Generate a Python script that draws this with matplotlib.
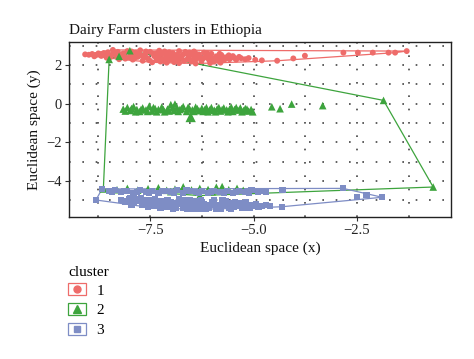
import matplotlib
matplotlib.use("Agg")
import matplotlib.pyplot as plt
from matplotlib.lines import Line2D
from matplotlib.patches import Rectangle
from matplotlib.legend_handler import HandlerBase

plt.rcParams['font.family'] = ['Liberation Serif', 'DejaVu Serif']

# ---------------- data ----------------
cluster_labels = ["1", "2", "3"]
colors = ["#EE6C6A", "#3DA43D", "#7E8DC5"]
markers = ["o", "^", "s"]

c1_x = [-9.07, -8.98, -8.90, -8.82, -8.75, -8.68, -8.60, -8.52, -8.45, -8.40, -8.35, -8.28, -8.22, -8.15,
        -8.10, -8.05, -7.98, -7.92, -7.85, -7.80, -7.74, -7.68, -7.62, -7.56, -7.50, -7.45, -7.40, -7.34,
        -7.28, -7.22, -7.16, -7.10, -7.04, -6.98, -6.92, -6.86, -6.80, -6.74, -6.68, -6.62, -6.56, -6.50,
        -6.44, -6.38, -6.32, -6.26, -6.20, -6.14, -6.08, -6.02, -5.96, -5.90, -5.84, -5.78, -5.72, -5.66,
        -5.58, -5.50, -5.42, -5.30, -5.20, -4.96, -4.80, -4.43, -4.04, -3.76, -2.83, -2.48, -2.12, -1.74,
        -1.58, -1.30, -8.55, -8.30, -8.00, -7.70, -7.60, -7.35, -7.20, -7.00, -6.90, -6.70, -6.60, -6.45,
        -6.30, -6.15, -6.00, -5.85, -5.75, -5.60, -6.55, -7.15, -7.90, -8.20, -8.70,
        -8.85, -8.62, -8.48, -8.38, -8.25, -8.12, -7.95, -7.88, -7.76, -7.65, -7.52, -7.42, -7.30, -7.25,
        -7.12, -7.05, -6.95, -6.83, -6.76, -6.65, -6.58, -6.48, -6.40, -6.35, -6.22, -6.12, -6.05, -5.92,
        -5.82, -5.68, -5.55, -5.46, -5.35, -5.12,
        -6.80, -6.40, -6.05, -5.80, -7.10]
c1_y = [2.55, 2.53, 2.57, 2.50, 2.60, 2.47, 2.56, 2.66, 2.42, 2.78, 2.55, 2.68, 2.40, 2.60,
        2.33, 2.72, 2.50, 2.28, 2.64, 2.42, 2.76, 2.22, 2.55, 2.35, 2.68, 2.14, 2.46, 2.28,
        2.74, 2.58, 2.20, 2.40, 2.66, 2.30, 2.15, 2.52, 2.72, 2.36, 2.22, 2.60, 2.45, 2.18,
        2.70, 2.32, 2.55, 2.20, 2.64, 2.40, 2.28, 2.58, 2.17, 2.45, 2.35, 2.52, 2.25, 2.40,
        2.30, 2.46, 2.28, 2.35, 2.30, 2.27, 2.24, 2.22, 2.34, 2.48, 2.64, 2.64, 2.64, 2.64,
        2.64, 2.72, 2.38, 2.45, 2.40, 2.48, 2.70, 2.60, 2.32, 2.50, 2.40, 2.55, 2.28, 2.50,
        2.42, 2.52, 2.35, 2.22, 2.42, 2.50, 2.65, 2.70, 2.60, 2.52, 2.54,
        2.45, 2.62, 2.50, 2.64, 2.30, 2.48, 2.70, 2.35, 2.55, 2.40, 2.25, 2.58, 2.44, 2.18,
        2.55, 2.24, 2.62, 2.30, 2.46, 2.68, 2.36, 2.26, 2.60, 2.46, 2.34, 2.62, 2.46, 2.30,
        2.58, 2.32, 2.40, 2.36, 2.42, 2.36,
        2.10, 2.08, 2.10, 2.12, 2.12]

c2_x = [-8.15, -8.05, -7.98, -7.90, -7.82, -7.75, -7.68, -7.60, -7.52, -7.45, -7.38, -7.30, -7.22, -7.15,
        -7.08, -7.00, -6.92, -6.85, -6.78, -6.70, -6.62, -6.55, -6.48, -6.40, -6.32, -6.25, -6.18, -6.10,
        -6.02, -5.95, -5.88, -5.80, -5.72, -5.65, -5.58, -5.50, -5.42, -5.35, -5.28, -5.20, -5.12, -5.02,
        -4.56, -4.36, -4.08, -3.33,
        -8.49, -7.99, -1.86, -0.66, -6.30, -8.63, -8.25,
        -8.30, -8.05, -7.80, -7.55, -7.30, -7.10, -6.90, -6.70, -6.50, -6.30, -6.10, -5.90, -5.76, -5.60,
        -5.40, -5.25, -6.00, -7.00,
        -8.10, -7.95, -7.85, -7.72, -7.56, -7.42, -7.34, -7.18, -7.04, -6.96, -6.82, -6.74, -6.58, -6.44,
        -6.36, -6.22, -6.14, -6.06, -5.92, -5.84, -5.76, -5.62, -5.54, -5.46, -5.32, -5.24, -5.16, -5.06,
        -6.90]
c2_y = [-0.28, -0.20, -0.35, -0.15, -0.30, -0.40, -0.22, -0.32, -0.12, -0.38, -0.25, -0.30, -0.18, -0.42,
        -0.28, -0.05, -0.35, -0.22, -0.30, -0.15, -0.40, -0.26, -0.32, -0.18, -0.36, -0.24, -0.30, -0.42,
        -0.20, -0.34, -0.27, -0.38, -0.22, -0.32, -0.28, -0.40, -0.20, -0.33, -0.42, -0.25, -0.38, -0.42,
        -0.16, -0.26, -0.02, -0.10,
        2.29, 2.74, 0.17, -4.31, -4.75, -4.41, 2.45,
        -4.45, -4.38, -4.47, -4.40, -4.35, -4.48, -4.42, -4.30, -4.46, -4.38, -4.44, -4.32, -4.29, -4.45,
        -4.38, -4.48, -4.55, -4.55,
        -0.38, -0.25, -0.42, -0.30, -0.40, -0.20, -0.42, -0.30, -0.38, -0.22, -0.40, -0.25, -0.18, -0.40,
        -0.26, -0.40, -0.20, -0.32, -0.42, -0.20, -0.30, -0.42, -0.18, -0.30, -0.22, -0.35, -0.28, -0.30,
        -0.02]

c3_x = [-8.66, -8.50, -8.35, -8.20, -8.05, -7.90, -7.75, -7.60, -7.45, -7.30, -7.15, -7.00, -6.85, -6.70,
        -6.55, -6.40, -6.25, -6.10, -5.95, -5.80, -5.65, -5.50, -5.35, -5.20, -5.05, -4.90, -4.70, -4.30,
        -2.84, -2.51, -2.27, -1.89,
        -8.81, -8.20, -8.10, -8.00, -7.90, -7.80, -7.70, -7.60, -7.50, -7.40, -7.30, -7.20, -7.10, -7.00,
        -6.90, -6.80, -6.70, -6.60, -6.50, -6.40, -6.30, -6.20, -6.10, -6.00, -5.90, -5.80, -5.70, -5.60,
        -5.50, -5.40, -5.30, -5.20, -5.10, -5.00, -4.80, -4.32, -7.95, -7.55, -6.95, -6.45, -5.95, -6.75,
        -7.25,
        -8.05, -7.85, -7.65, -7.45, -7.35, -7.15, -7.05, -6.85, -6.65, -6.55, -6.35, -6.25, -6.15, -6.05,
        -5.85, -5.75, -5.65, -5.55, -5.45, -5.25, -5.15, -4.95, -4.60, -6.60,
        -8.42, -8.12, -7.82, -7.52, -7.22, -6.92, -6.62, -6.32, -6.02, -5.72, -5.42, -5.12, -4.82,
        -7.98, -7.88, -7.72, -7.62, -7.48, -7.38, -7.28, -7.18, -7.08, -6.98, -6.88, -6.78, -6.68, -6.58,
        -6.48, -6.38, -6.28, -6.18, -6.08, -5.98, -5.88, -5.78, -5.68, -5.58, -5.48, -5.38, -5.28, -5.18,
        -5.08, -4.88, -4.70]
c3_y = [-4.41, -4.52, -4.48, -4.58, -4.50, -4.60, -4.48, -4.56, -4.50, -4.62, -4.52, -4.58, -4.48, -4.60,
        -4.52, -4.58, -4.50, -4.62, -4.52, -4.58, -4.50, -4.60, -4.52, -4.56, -4.48, -4.58, -4.55, -4.47,
        -4.38, -4.81, -4.72, -4.84,
        -4.98, -5.00, -5.10, -4.95, -5.15, -5.05, -5.25, -4.98, -5.12, -5.30, -5.02, -5.20, -5.35, -5.08,
        -5.25, -4.95, -5.40, -5.15, -5.30, -5.05, -5.42, -5.20, -5.35, -5.10, -5.44, -5.25, -5.12, -5.38,
        -5.22, -5.30, -5.15, -5.35, -5.25, -5.30, -5.28, -5.33, -5.22, -5.35, -5.42, -5.45, -5.00, -5.05,
        -5.40,
        -5.05, -4.92, -5.18, -5.00, -5.20, -5.05, -5.28, -5.12, -5.28, -4.98, -5.25, -5.08, -5.45, -5.22,
        -5.35, -5.00, -5.25, -5.42, -5.10, -5.22, -5.40, -5.18, -5.30, -5.45,
        -4.58, -4.50, -4.55, -4.62, -4.50, -4.60, -4.48, -4.62, -4.56, -4.62, -4.56, -4.62, -4.52,
        -4.88, -5.08, -4.90, -5.20, -5.25, -4.95, -5.12, -5.30, -4.98, -5.18, -5.38, -5.20, -5.00, -5.35,
        -5.12, -5.40, -5.00, -5.28, -5.40, -5.15, -5.30, -5.42, -5.05, -5.15, -5.35, -5.20, -5.40, -5.10,
        -5.38, -5.35, -5.22]

center_x = [-6.52]
center_y = [-0.69]

xticks = [-7.5, -5.0, -2.5]
xtick_labels = ["\u22127.5", "\u22125.0", "\u22122.5"]
yticks = [-4, -2, 0, 2]
ytick_labels = ["\u22124", "\u22122", "0", "2"]

# ---------------- helpers ----------------
def convex_hull(xs, ys):
    pts = sorted(set(zip(xs, ys)))
    def cross(o, a, b):
        return (a[0]-o[0])*(b[1]-o[1]) - (a[1]-o[1])*(b[0]-o[0])
    lower = []
    for p in pts:
        while len(lower) >= 2 and cross(lower[-2], lower[-1], p) <= 0:
            lower.pop()
        lower.append(p)
    upper = []
    for p in reversed(pts):
        while len(upper) >= 2 and cross(upper[-2], upper[-1], p) <= 0:
            upper.pop()
        upper.append(p)
    hull = lower[:-1] + upper[:-1]
    hull.append(hull[0])
    return [p[0] for p in hull], [p[1] for p in hull]


class BoxMarkerHandler(HandlerBase):
    def create_artists(self, legend, orig_handle, xdescent, ydescent, width, height, fontsize, trans):
        c = orig_handle.get_color()
        rect = Rectangle((-xdescent, -ydescent), width, height, fill=False,
                         edgecolor=c, lw=0.9, transform=trans)
        m = Line2D([width / 2 - xdescent], [height / 2 - ydescent], marker=orig_handle.get_marker(),
                   color=c, ms=orig_handle.get_markersize(), ls='none', transform=trans)
        return [rect, m]

# ---------------- figure ----------------
fig = plt.figure(figsize=(4.74, 3.59), dpi=100)
ax = fig.add_axes([69/474, 1-217/359, (451-69)/474, (217-42)/359])

series = [(c1_x, c1_y), (c2_x, c2_y), (c3_x, c3_y)]
sizes = [18, 30, 20]
for (xs, ys), col, mk, s in zip(series, colors, markers, sizes):
    hx, hy = convex_hull(xs, ys)
    ax.plot(hx, hy, color=col, lw=0.9, zorder=3)
for (xs, ys), col, mk, s in zip(series, colors, markers, sizes):
    ax.scatter(xs, ys, s=s, marker=mk, color=col, edgecolors='none', zorder=4)
ax.scatter(center_x, center_y, s=55, marker="^", color=colors[1], edgecolors='none', zorder=4)

ax.set_xlim(-9.46, -0.23)
ax.set_ylim(-5.86, 3.19)
ax.set_xticks(xticks)
ax.set_xticklabels(xtick_labels)
ax.set_yticks(yticks)
ax.set_yticklabels(ytick_labels)
ax.set_xticks([-8.75, -6.25, -3.75, -1.25], minor=True)
ax.set_yticks([-5, -3, -1, 1, 3], minor=True)
ax.tick_params(which='major', length=3, width=0.8, color='#333333', labelsize=10.5,
               labelcolor='#222222', pad=2)
ax.tick_params(which='minor', length=0)
ax.grid(which='both', color='#444444', linestyle=(0, (1, 7)), lw=1.2, zorder=0)
ax.set_axisbelow(True)
for sp in ax.spines.values():
    sp.set_color('#222222')
    sp.set_linewidth(1.0)

ax.set_xlabel("Euclidean space (x)", fontsize=11, color='#111111', labelpad=3)
ax.set_ylabel("Euclidean space (y)", fontsize=11, color='#111111', labelpad=4)
ax.set_title("Dairy Farm clusters in Ethiopia", fontsize=11, loc='left', color='#111111', pad=6)

handles = [Line2D([], [], color=c, marker=m, ms=ms, ls='none')
           for c, m, ms in zip(colors, markers, [5, 6, 5])]
leg = fig.legend(handles, cluster_labels, title="cluster", loc='upper left',
                 bbox_to_anchor=(68/474, 1-266/359), frameon=False, fontsize=11,
                 title_fontsize=11, handler_map={Line2D: BoxMarkerHandler()},
                 handlelength=1.15, handleheight=0.85, labelspacing=0.35, handletextpad=0.7,
                 borderpad=0, borderaxespad=0, alignment='left')
leg._legend_box.sep = 3

fig.savefig("out.png", dpi=100)
